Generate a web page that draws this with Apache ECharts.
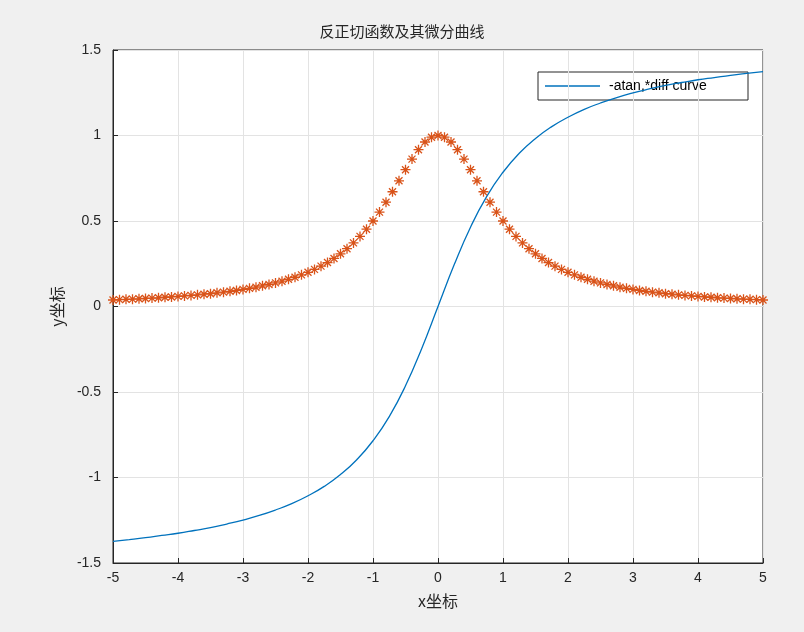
<!DOCTYPE html>
<html><head><meta charset="utf-8">
<script src="https://cdn.jsdelivr.net/npm/echarts@6/dist/echarts.min.js"></script>
<style>html,body{margin:0;padding:0;background:#f0f0f0}#c{width:804px;height:632px}</style>
</head><body><div id="c"></div>
<script>
const atanX = [-5,-4.75,-4.5,-4.25,-4,-3.75,-3.5,-3.25,-3,-2.75,-2.5,-2.25,-2,-1.75,-1.5,-1.25,-1,-0.75,-0.5,-0.25,0,0.25,0.5,0.75,1,1.25,1.5,1.75,2,2.25,2.5,2.75,3,3.25,3.5,3.75,4,4.25,4.5,4.75,5];
const atanY = [-1.373,-1.363,-1.352,-1.339,-1.326,-1.310,-1.293,-1.272,-1.249,-1.222,-1.190,-1.153,-1.107,-1.052,-0.983,-0.896,-0.785,-0.644,-0.464,-0.245,0,0.245,0.464,0.644,0.785,0.896,0.983,1.052,1.107,1.153,1.190,1.222,1.249,1.272,1.293,1.310,1.326,1.339,1.352,1.363,1.373];
const diffX = [-5,-4.9,-4.8,-4.7,-4.6,-4.5,-4.4,-4.3,-4.2,-4.1,-4,-3.9,-3.8,-3.7,-3.6,-3.5,-3.4,-3.3,-3.2,-3.1,-3,-2.9,-2.8,-2.7,-2.6,-2.5,-2.4,-2.3,-2.2,-2.1,-2,-1.9,-1.8,-1.7,-1.6,-1.5,-1.4,-1.3,-1.2,-1.1,-1,-0.9,-0.8,-0.7,-0.6,-0.5,-0.4,-0.3,-0.2,-0.1,0,0.1,0.2,0.3,0.4,0.5,0.6,0.7,0.8,0.9,1,1.1,1.2,1.3,1.4,1.5,1.6,1.7,1.8,1.9,2,2.1,2.2,2.3,2.4,2.5,2.6,2.7,2.8,2.9,3,3.1,3.2,3.3,3.4,3.5,3.6,3.7,3.8,3.9,4,4.1,4.2,4.3,4.4,4.5,4.6,4.7,4.8,4.9,5];
const diffY = [0.038,0.040,0.042,0.043,0.045,0.047,0.049,0.051,0.054,0.056,0.059,0.062,0.065,0.068,0.072,0.075,0.080,0.084,0.089,0.094,0.100,0.106,0.113,0.121,0.129,0.138,0.148,0.159,0.171,0.185,0.200,0.217,0.236,0.257,0.281,0.308,0.338,0.372,0.410,0.452,0.500,0.552,0.610,0.671,0.735,0.800,0.862,0.917,0.962,0.990,1.000,0.990,0.962,0.917,0.862,0.800,0.735,0.671,0.610,0.552,0.500,0.452,0.410,0.372,0.338,0.308,0.281,0.257,0.236,0.217,0.200,0.185,0.171,0.159,0.148,0.138,0.129,0.121,0.113,0.106,0.100,0.094,0.089,0.084,0.080,0.075,0.072,0.068,0.065,0.062,0.059,0.056,0.054,0.051,0.049,0.047,0.045,0.043,0.042,0.040,0.038];
const titleText = '反正切函数及其微分曲线';
const legendText = '-atan,*diff curve';

const chart = echarts.init(document.getElementById('c'));
const ax = {color:'#262626',fontSize:14,fontFamily:'Liberation Sans, Arial'};
chart.setOption({
  backgroundColor:'#f0f0f0',
  animation:false,
  title:{text:titleText,left:'center',top:19,textStyle:{fontSize:15,fontWeight:'normal',color:'#262626',fontFamily:'Noto Sans CJK SC'}},
  grid:{left:113,right:41,top:50,bottom:69,show:true,backgroundColor:'#fff',borderColor:'#262626',borderWidth:1},
  xAxis:{type:'value',min:-5,max:5,interval:1,name:'x坐标',nameLocation:'middle',nameGap:30,
    nameTextStyle:{fontSize:16,color:'#262626',fontFamily:'Noto Sans CJK SC'},
    axisLine:{onZero:false,lineStyle:{color:'#262626'}},axisTick:{inside:true,length:5,lineStyle:{color:'#262626'}},
    axisLabel:ax,splitLine:{lineStyle:{color:'#e3e3e3'}}},
  yAxis:{type:'value',min:-1.5,max:1.5,interval:0.5,name:'y坐标',nameLocation:'middle',nameGap:48,
    nameTextStyle:{fontSize:16,color:'#262626',fontFamily:'Noto Sans CJK SC'},
    axisLine:{show:true,onZero:false,lineStyle:{color:'#262626'}},axisTick:{show:true,inside:true,length:5,lineStyle:{color:'#262626'}},
    axisLabel:Object.assign({formatter:v=>String(v),margin:12},ax),splitLine:{lineStyle:{color:'#e3e3e3'}}},
  series:[
    {type:'line',data:atanX.map((x,i)=>[x,atanY[i]]),smooth:true,showSymbol:false,
     lineStyle:{color:'#0072BD',width:1.3}},
    {type:'line',data:diffX.map((x,i)=>[x,diffY[i]]),showSymbol:true,lineStyle:{width:0,opacity:0},
     symbol:'path://M0,-5L0,5M-5,0L5,0M-3.5,-3.5L3.5,3.5M-3.5,3.5L3.5,-3.5',symbolSize:10,
     itemStyle:{color:'rgba(0,0,0,0)',borderColor:'#D95319',borderWidth:1.3}}
  ],
  graphic:[
    {type:'rect',shape:{x:538,y:72,width:210,height:28},style:{fill:'#fff',stroke:'#262626',lineWidth:1}},
    {type:'line',shape:{x1:545,y1:86,x2:600,y2:86},style:{stroke:'#0072BD',lineWidth:1.3}},
    {type:'text',x:609,y:86,style:{text:legendText,fontSize:14,fill:'#000',fontFamily:'Liberation Sans, Arial',verticalAlign:'middle'}}
  ]
});
</script></body></html>
